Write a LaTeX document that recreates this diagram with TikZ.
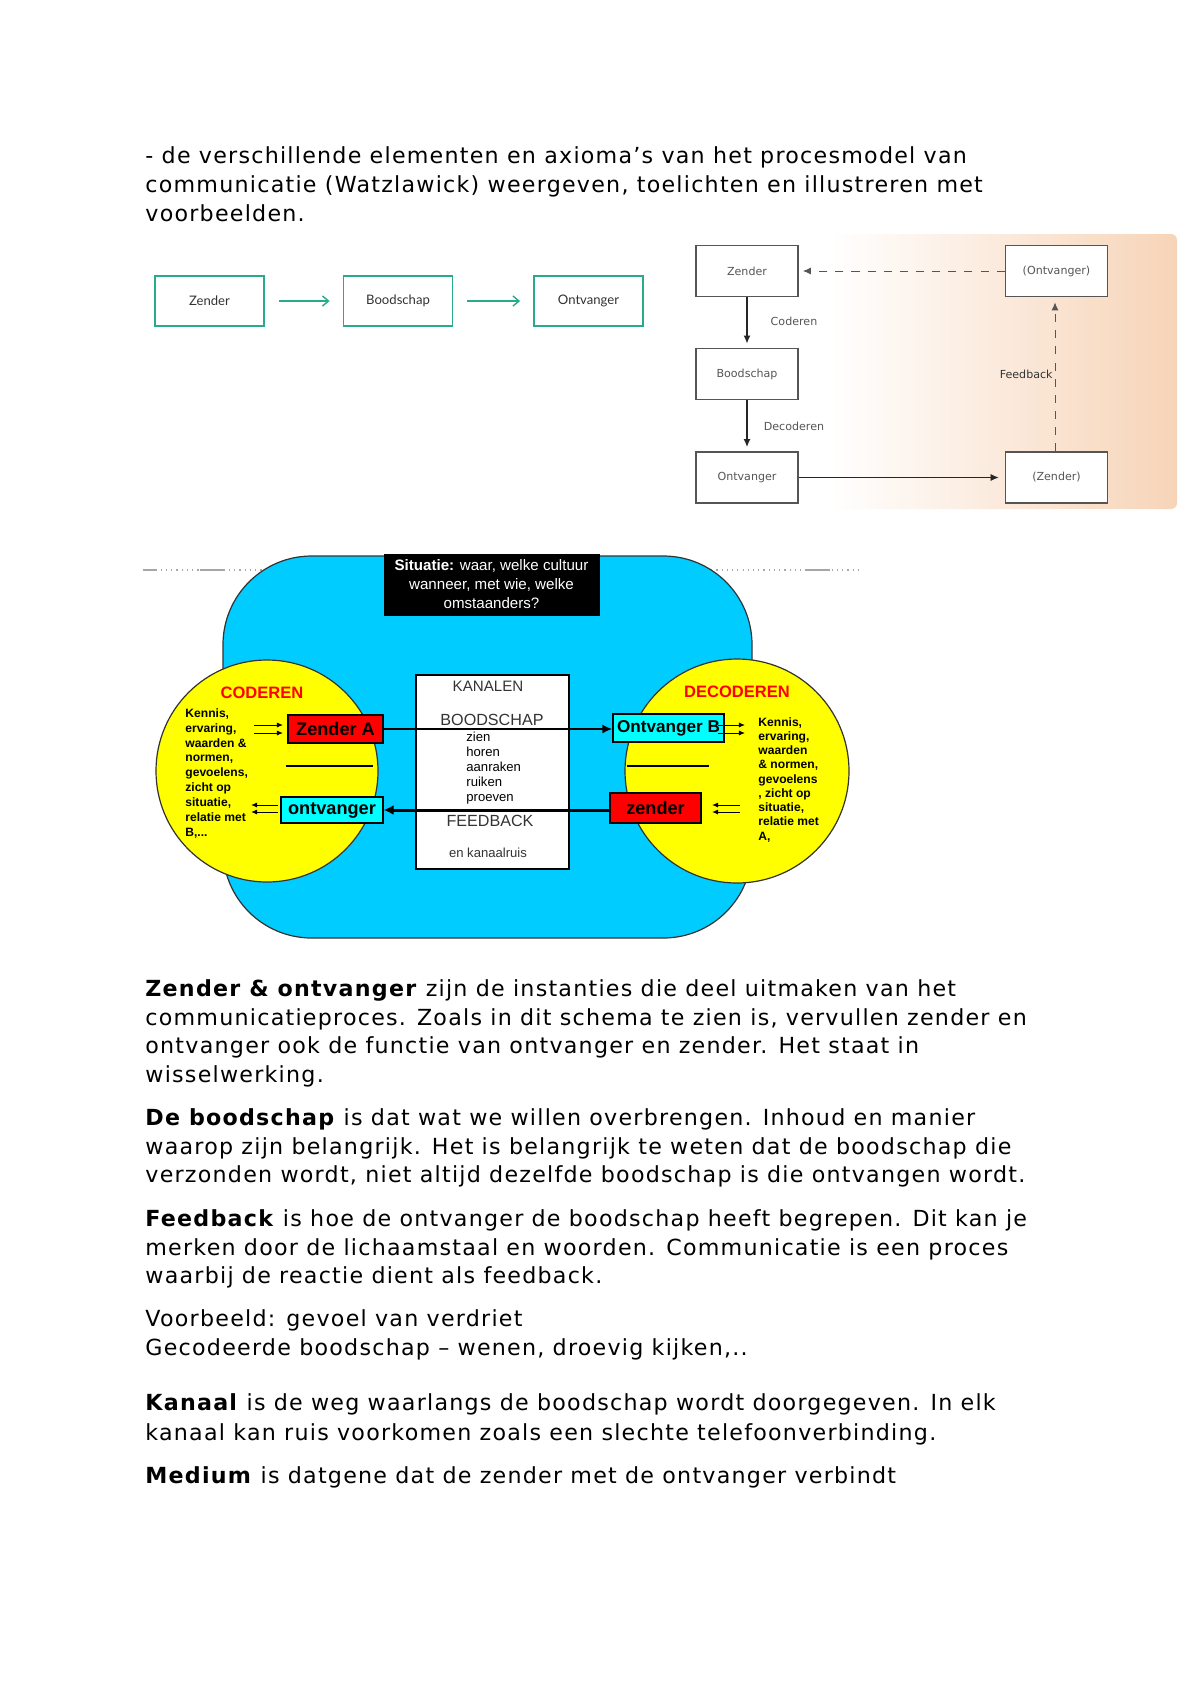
\documentclass[tikz,border=0pt]{standalone}
\usepackage{fontspec}
\setmainfont{DejaVu Sans}
\newfontfamily\bodyf{DejaVu Sans}[LetterSpace=5.6]
\newfontfamily\arialf{Liberation Sans}
\newfontfamily\latof{Lato}
\usetikzlibrary{arrows.meta,shapes.geometric}
\definecolor{tealc}{RGB}{40,170,140}
\definecolor{skyb}{RGB}{0,204,255}
\definecolor{peach}{RGB}{247,212,184}
\definecolor{flowgray}{RGB}{85,85,85}
\definecolor{yel}{RGB}{255,255,0}
\definecolor{cyn}{RGB}{0,255,255}
\definecolor{rd}{RGB}{255,0,0}
\def\u{0.49607pt}
\tikzset{
  bodytext/.style={anchor=base west, inner sep=0pt, font=\bodyf\fontsize{11}{13}\selectfont},
  tealbox/.style={draw=tealc, line width=0.8pt, minimum width=109*\u, minimum height=50*\u, inner sep=0pt, font=\latof\fontsize{6.5}{8}\selectfont, text=black!80},
  tealarrow/.style={draw=tealc, line width=0.7pt, -{Straight Barb[length=3pt,width=5pt]}, shorten <=7pt, shorten >=6.5pt},
  graybox/.style={draw=flowgray, line width=0.8pt, fill=white, minimum width=102*\u, minimum height=51*\u, inner sep=0pt, font=\fontsize{5.5}{7}\selectfont, text=flowgray},
  graylabel/.style={inner sep=0pt, font=\fontsize{5.5}{7}\selectfont, text=flowgray},
  rolebox/.style={draw=black, line width=0.6pt, inner sep=0pt, font=\arialf\bfseries\fontsize{9}{10}\selectfont},
  smallarrow/.style={line width=0.5pt, -{Latex[length=3pt,width=2.5pt]}},
  circtext/.style={inner sep=0pt, align=left, font=\arialf\bfseries\fontsize{6}{7.4}\selectfont, anchor=north west},
  kantext/.style={inner sep=0pt, font=\arialf\fontsize{8}{9}\selectfont, text=black!80},
}
\begin{document}
\begin{tikzpicture}[x=0.49607pt,y=-0.49607pt]
\useasboundingbox (0,0) rectangle (1200,1698);
\fill[white] (0,0) rectangle (1200,1698);

% header
\node[bodytext] (h1) at (145,163) {- de verschillende elementen en axioma’s van het procesmodel van};
\node[bodytext] (h2) at (145,192) {communicatie (Watzlawick) weergeven, toelichten en illustreren met};
\node[bodytext] (h3) at (145,221) {voorbeelden.};

% linear model
\node[tealbox] (lz) at (209.5,301) {Zender};
\node[tealbox] (lb) at (398,301) {Boodschap};
\node[tealbox] (lo) at (588.5,301) {Ontvanger};
\draw[tealarrow] (lz) -- (lb);
\draw[tealarrow] (lb) -- (lo);

% circular model
\shade[left color=white, right color=peach, rounded corners=3pt] (830,234) rectangle (1177,509);
\node[graybox] (rz) at (747,271) {Zender};
\node[graybox] (rb) at (747,374) {Boodschap};
\node[graybox] (ro) at (747,477.5) {Ontvanger};
\node[graybox] (ro2) at (1056.5,271) {(Ontvanger)};
\node[graybox] (rz2) at (1056.5,477.5) {(Zender)};
\draw[line width=0.8pt, draw=black!85, -{Latex[length=4pt,width=3.5pt]}, shorten >=2pt] (rz) -- (rb);
\draw[line width=0.8pt, draw=black!85, -{Latex[length=4pt,width=3.5pt]}, shorten >=2pt] (rb) -- (ro);
\draw[line width=0.4pt, draw=black!85, -{Latex[length=4pt,width=3.5pt]}, shorten >=3pt] (ro) -- (rz2);
\draw[line width=0.5pt, draw=flowgray, dash pattern=on 4pt off 4pt, -{Latex[length=4pt,width=3.5pt]}, shorten >=2.5pt] (rz2.north -| 1055,0) -- (ro2.south -| 1055,0);
\draw[line width=0.5pt, draw=flowgray, dash pattern=on 4pt off 4pt, -{Latex[length=4pt,width=3.5pt]}, shorten >=2pt] (ro2) -- (rz);
\node[graylabel] (lcod) at (794,321) {Coderen};
\node[graylabel] (ldec) at (794,426) {Decoderen};
\node[graylabel, anchor=east, text=black!80] (lfb) at (1053,374) {Feedback};

% separator line
\draw[gray!70, dotted, line width=0.6pt] (145,570) -- (862,570);
\draw[gray!70, line width=0.8pt] (143,570) -- (156,570);
\draw[gray!70, line width=0.8pt] (200,570) -- (224,570);
\draw[gray!70, line width=0.8pt] (805,570) -- (830,570);

% situation shape
\node[draw=black!80, line width=0.6pt, fill=skyb, rounded corners=44pt, minimum width=529*\u, minimum height=382*\u, inner sep=0pt] (situ) at (487.5,747) {};
\node[fill=black, text=white, minimum width=216*\u, minimum height=62*\u, inner sep=0pt, align=center, font=\arialf\fontsize{7.5}{9.4}\selectfont] (sitbox) at (491.5,584.5) {\textbf{Situatie:} waar, welke cultuur\\wanneer, met wie, welke\\omstaanders?};

% circles
\node[circle, draw=black!80, line width=0.6pt, fill=yel, minimum size=222*\u, inner sep=0pt] (lcirc) at (267,771) {};
\node[circle, draw=black!80, line width=0.6pt, fill=yel, minimum size=224*\u, inner sep=0pt] (rcirc) at (737,771) {};

% channel box
\node[draw=black, line width=0.7pt, fill=white, minimum width=153*\u, minimum height=194*\u, inner sep=0pt] (kanbox) at (492.5,772) {};
\node[kantext, font=\arialf\fontsize{7.5}{9}\selectfont] (tkan) at (488,686) {KANALEN};
\node[kantext] (tbood) at (492,720) {BOODSCHAP};
\node[inner sep=0pt, align=left, anchor=north west, font=\arialf\fontsize{6.5}{7.4}\selectfont] (tlist) at (466,732) {zien\\horen\\aanraken\\ruiken\\proeven};
\node[kantext] (tfeed) at (490,821) {FEEDBACK};
\node[kantext, font=\arialf\fontsize{6.5}{8}\selectfont] (truis) at (488,853) {en kanaalruis};

% circle labels and texts
\node[inner sep=0pt, text=rd, font=\arialf\bfseries\fontsize{8.2}{9}\selectfont] (tcod) at (262,693) {CODEREN};
\node[inner sep=0pt, text=rd, font=\arialf\bfseries\fontsize{8.2}{9}\selectfont] (tdec) at (737,692) {DECODEREN};
\node[circtext] (ltext) at (185,708) {Kennis,\\ervaring,\\waarden \&\\normen,\\gevoelens,\\zicht op\\situatie,\\relatie met\\B,...};
\node[circtext, font=\arialf\bfseries\fontsize{6}{7.07}\selectfont] (rtext) at (758,717) {Kennis,\\ervaring,\\waarden\\\& normen,\\gevoelens\\, zicht op\\situatie,\\relatie met\\A,};
\draw[line width=0.6pt] (286,766) -- (373,766);
\draw[line width=0.6pt] (627,766) -- (709,766);

% role boxes
\node[rolebox, fill=rd, minimum width=95*\u, minimum height=28*\u] (za) at (335.5,729) {Zender A};
\node[rolebox, fill=cyn, minimum width=102*\u, minimum height=26*\u] (ontv) at (332,810) {ontvanger};
\node[rolebox, fill=cyn, minimum width=111*\u, minimum height=28*\u, font=\arialf\bfseries\fontsize{8.5}{10}\selectfont] (ob) at (668.5,728) {Ontvanger B};
\node[rolebox, fill=rd, minimum width=91*\u, minimum height=30*\u] (zend) at (655.5,808) {zender};

% main arrows
\draw[line width=1pt, -{Latex[length=5pt,width=4.5pt]}] (za.east) -- (za.east -| ob.west);
\draw[line width=1.5pt, -{Latex[length=5pt,width=5pt]}] (zend.west |- 0,810) -- (ontv.east |- 0,810);

% small double arrows
\coordinate (a1s) at (254,725); \coordinate (a1e) at (283,725);
\coordinate (a2s) at (254,733); \coordinate (a2e) at (283,733);
\coordinate (b1s) at (278,805); \coordinate (b1e) at (251,805);
\coordinate (b2s) at (278,812); \coordinate (b2e) at (251,812);
\coordinate (c1s) at (718,725); \coordinate (c1e) at (745,725);
\coordinate (c2s) at (718,733); \coordinate (c2e) at (745,733);
\coordinate (d1s) at (740,805); \coordinate (d1e) at (712,805);
\coordinate (d2s) at (740,812); \coordinate (d2e) at (712,812);
\draw[smallarrow] (a1s) -- (a1e);
\draw[smallarrow] (a2s) -- (a2e);
\draw[smallarrow] (b1s) -- (b1e);
\draw[smallarrow] (b2s) -- (b2e);
\draw[smallarrow] (c1s) -- (c1e);
\draw[smallarrow] (c2s) -- (c2e);
\draw[smallarrow] (d1s) -- (d1e);
\draw[smallarrow] (d2s) -- (d2e);

% body text
\node[bodytext] (p1a) at (145,996.5) {\textbf{Zender \& ontvanger} zijn de instanties die deel uitmaken van het};
\node[bodytext] (p1b) at (145,1025) {communicatieproces. Zoals in dit schema te zien is, vervullen zender en};
\node[bodytext] (p1c) at (145,1053.5) {ontvanger ook de functie van ontvanger en zender. Het staat in};
\node[bodytext] (p1d) at (145,1082) {wisselwerking.};
\node[bodytext] (p2a) at (145,1125.5) {\textbf{De boodschap} is dat wat we willen overbrengen. Inhoud en manier};
\node[bodytext] (p2b) at (145,1154) {waarop zijn belangrijk. Het is belangrijk te weten dat de boodschap die};
\node[bodytext] (p2c) at (145,1182.5) {verzonden wordt, niet altijd dezelfde boodschap is die ontvangen wordt.};
\node[bodytext] (p3a) at (145,1226.5) {\textbf{Feedback} is hoe de ontvanger de boodschap heeft begrepen. Dit kan je};
\node[bodytext] (p3b) at (145,1255) {merken door de lichaamstaal en woorden. Communicatie is een proces};
\node[bodytext] (p3c) at (145,1283.5) {waarbij de reactie dient als feedback.};
\node[bodytext] (p4a) at (145,1326) {Voorbeeld: gevoel van verdriet};
\node[bodytext] (p4b) at (145,1355.5) {Gecodeerde boodschap – wenen, droevig kijken,..};
\node[bodytext] (p5a) at (145,1410.5) {\textbf{Kanaal} is de weg waarlangs de boodschap wordt doorgegeven. In elk};
\node[bodytext] (p5b) at (145,1440.5) {kanaal kan ruis voorkomen zoals een slechte telefoonverbinding.};
\node[bodytext] (p6a) at (145,1483.5) {\textbf{Medium} is datgene dat de zender met de ontvanger verbindt};
\end{tikzpicture}
\end{document}
